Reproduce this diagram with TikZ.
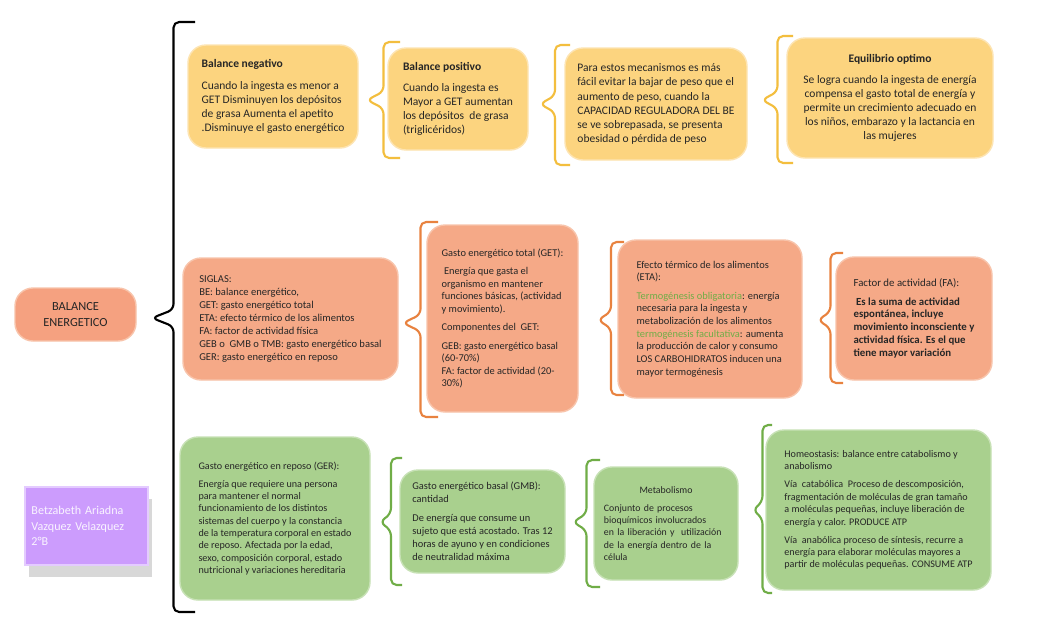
\documentclass[tikz,border=0pt]{standalone}
\usepackage{fontspec}
\setmainfont{Carlito}
\usetikzlibrary{calc,shadows}
\definecolor{gold}{HTML}{FCD47F}
\definecolor{lgold}{HTML}{FDE4B2}
\definecolor{dgold}{HTML}{F3BE3E}
\definecolor{salmon}{HTML}{F5A987}
\definecolor{lsalmon}{HTML}{F8C4AB}
\definecolor{dorange}{HTML}{E8823F}
\definecolor{sage}{HTML}{A9D08E}
\definecolor{lsage}{HTML}{C7E1B5}
\definecolor{dgreen}{HTML}{70AD47}
\definecolor{lilac}{HTML}{CC9CFD}
\definecolor{llilac}{HTML}{E4CBFF}
\tikzset
{
    % Size of a box, given in pixels of the original
    area/.style 2 args=
    {
        minimum width=#1*0.025cm,
        minimum height=#2*0.025cm
    },
    % Common style for all the rounded boxes
    box/.style=
    {
        shape=rectangle,
        rounded corners=0.45cm,
        line width=1pt,
        inner sep=0pt,
        text=black!85,
        align=left
    },
    % Boxes of the first row
    yellow box/.style=
    {
        box,
        fill=gold,
        draw=lgold,
        font=\fontsize{8.2}{10}\selectfont
    },
    % Boxes of the second row
    salmon box/.style=
    {
        box,
        fill=salmon,
        draw=lsalmon,
        font=\fontsize{7.4}{9}\selectfont
    },
    % Boxes of the third row
    green box/.style=
    {
        box,
        fill=sage,
        draw=lsage,
        font=\fontsize{7.2}{8.8}\selectfont
    },
    % The box with the name
    author box/.style=
    {
        shape=rectangle,
        fill=lilac,
        draw=llilac,
        line width=2pt,
        inner sep=0pt,
        align=left,
        text width=2.75cm,
        text=white!88!lilac,
        font=\fontsize{8.6}{11.2}\selectfont,
        drop shadow={shadow xshift=0.1cm, shadow yshift=-0.3cm, fill=gray, opacity=0.3}
    },
    % Style for the lines of the curly braces
    curly line/.style=
    {
        line width=1.5pt,
        rounded corners=4pt
    }
}
% Curly brace: colour, upper end, lower end, point
\newcommand{\drawcurly}[4]
{
    \coordinate (mid) at ($(#2)!0.5!(#4)$);
    \draw[curly line, #1] (#2) -- (#2 -| mid)
        -- ($(#4 -| mid)+(0,6pt)$) -- (#4) -- ($(#4 -| mid)+(0,-6pt)$)
        -- (#3 -| mid) -- (#3);
}
\pgfdeclarelayer{background}
\pgfsetlayers{background,main}

\begin{document}
\begin{tikzpicture}[x=0.025cm, y=-0.025cm]
    % Bounding box, one unit is one pixel of the original
    \path [use as bounding box] (0,0) rectangle (1054,640);

    % First row
    \node (neg) [yellow box, area={170}{103}] at (273,96.5)
        {\textbf{Balance negativo}\\[5pt]
         Cuando la ingesta es menor a\\
         GET Disminuyen los depósitos\\
         de grasa Aumenta el apetito\\
         .Disminuye el gasto energético};
    \node (pos) [yellow box, area={140}{102}] at (458,99)
        {\textbf{Balance positivo}\\[5pt]
         Cuando la ingesta es\\
         Mayor a GET aumentan\\
         los depósitos~ de grasa\\
         (triglicéridos)};
    \node (para) [yellow box, area={182}{112}] at (656,104)
        {Para estos mecanismos es más\\
         fácil evitar la bajar de peso que el\\
         aumento de peso, cuando la\\
         CAPACIDAD REGULADORA DEL BE\\
         se ve sobrepasada, se presenta\\
         obesidad o pérdida de peso};
    \node (equi) [yellow box, align=center, area={206}{120}] at (890,98)
        {\textbf{Equilibrio optimo}\\[5pt]
         Se logra cuando la ingesta de energía\\
         compensa el gasto total de energía y\\
         permite un crecimiento adecuado en\\
         los niños, embarazo y la lactancia en\\
         las mujeres};

    % Second row
    \node (bal) [salmon box, fill=salmon!95!red, align=center,
                 font=\fontsize{8.8}{11.4}\selectfont, area={121}{53}] at (75.5,314.5)
        {BALANCE\\ENERGETICO};
    \node (siglas) [salmon box, font=\fontsize{7.5}{9.3}\selectfont, area={215}{122}] at (290.5,319)
        {SIGLAS:\\
         BE: balance energético,\\
         GET: gasto energético total\\
         ETA: efecto térmico de los alimentos\\
         FA: factor de actividad física\\
         GEB o~ GMB o TMB: gasto energético basal\\
         GER: gasto energético en reposo};
    \node (get) [salmon box, area={151}{187}] at (502.5,318.5)
        {Gasto energético total (GET):\\[4pt]
         ~Energía que gasta el\\
         organismo en mantener\\
         funciones básicas, (actividad\\
         y movimiento).\\[4pt]
         Componentes del~ GET:\\[4pt]
         GEB: gasto energético basal\\
         (60-70\%)\\
         FA: factor de actividad (20-\\
         30\%)};
    \node (eta) [salmon box, area={184}{158}] at (710,319)
        {Efecto térmico de los alimentos\\
         (ETA):\\[4pt]
         \textcolor{dgreen}{Termogénesis obligatoria}: energía\\
         necesaria para la ingesta y\\
         metabolización de los alimentos\\
         \textcolor{dgreen}{termogénesis facultativa}: aumenta\\
         la producción de calor y consumo\\
         LOS CARBOHIDRATOS inducen una\\
         mayor termogénesis};
    \node (fa) [salmon box, font=\fontsize{7.7}{9.2}\selectfont, area={156}{123}] at (914,318.5)
        {Factor de actividad (FA):\\[4pt]
         \textbf{~Es la suma de actividad}\\
         \textbf{espontánea, incluye}\\
         \textbf{movimiento inconsciente y}\\
         \textbf{actividad física. Es el que}\\
         \textbf{tiene mayor variación}};

    % Third row
    \node (autor) [author box, area={123}{78}] at (86.5,526)
        {Betzabeth Ariadna\\Vazquez Velazquez\\2°B};
    \node (ger) [green box, area={190}{163}] at (275,518.5)
        {Gasto energético en reposo (GER):\\[4pt]
         Energía que requiere una persona\\
         para mantener el normal\\
         funcionamiento de los distintos\\
         sistemas del cuerpo y la constancia\\
         de la temperatura corporal en estado\\
         de reposo. Afectada por la edad,\\
         sexo, composición corporal, estado\\
         nutricional y variaciones hereditaria};
    \node (gmb) [green box, font=\fontsize{7.4}{9.3}\selectfont, area={165}{103}] at (482.5,521.5)
        {Gasto energético basal (GMB):\\
         cantidad\\[4pt]
         De energía que consume un\\
         sujeto que está acostado. Tras 12\\
         horas de ayuno y en condiciones\\
         de neutralidad máxima};
    \node (meta) [green box, font=\fontsize{7}{8.8}\selectfont, text width=3.1cm,
                  area={144}{113}] at (666,523.5)
        {{\centering Metabolismo\par}\vspace{4pt}
         Conjunto de procesos\\
         bioquímicos involucrados\\
         en la liberación y~ utilización\\
         de la energía dentro de la\\
         célula};
    \node (homeo) [green box, area={225}{160}] at (878.5,510)
        {Homeostasis: balance entre catabolismo y\\
         anabolismo\\[4pt]
         Vía~ catabólica~ Proceso de descomposición,\\
         fragmentación de moléculas de gran tamaño\\
         a moléculas pequeñas, incluye liberación de\\
         energía y calor. PRODUCE ATP\\[4pt]
         Vía~ anabólica proceso de síntesis, recurre a\\
         energía para elaborar moléculas mayores a\\
         partir de moléculas pequeñas. CONSUME ATP};

    % Ends and points of the braces
    \coordinate (main top) at (195,22);
    \coordinate (main bot) at (195,612);
    \coordinate (main tip) at (152,318);
    \coordinate (pos top) at (400,42);
    \coordinate (pos bot) at (400,158);
    \coordinate (pos tip) at (367,100);
    \coordinate (para top) at (570,45);
    \coordinate (para bot) at (570,165);
    \coordinate (para tip) at (540,104);
    \coordinate (equi top) at (793,36);
    \coordinate (equi bot) at (793,163);
    \coordinate (equi tip) at (762,100);
    \coordinate (get top) at (438,222);
    \coordinate (get bot) at (438,417);
    \coordinate (get tip) at (403,323);
    \coordinate (eta top) at (624,242);
    \coordinate (eta bot) at (624,395);
    \coordinate (eta tip) at (598,320);
    \coordinate (fa top) at (843,253);
    \coordinate (fa bot) at (843,383);
    \coordinate (fa tip) at (818,320);
    \coordinate (gmb top) at (402,458);
    \coordinate (gmb bot) at (402,585);
    \coordinate (gmb tip) at (380,522);
    \coordinate (meta top) at (600,460);
    \coordinate (meta bot) at (600,587);
    \coordinate (meta tip) at (573,522);
    \coordinate (homeo top) at (772,425);
    \coordinate (homeo bot) at (772,593);
    \coordinate (homeo tip) at (753,510);

    % Draw the braces behind the boxes
    \begin{pgfonlayer}{background}
        \fill[white] (0,0) rectangle (1054,640);
        \drawcurly{black}{main top}{main bot}{main tip}
        %% first row
        \drawcurly{dgold}{pos top}{pos bot}{pos tip}
        \drawcurly{dgold}{para top}{para bot}{para tip}
        \drawcurly{dgold}{equi top}{equi bot}{equi tip}
        %% second row
        \drawcurly{dorange}{get top}{get bot}{get tip}
        \drawcurly{dorange}{eta top}{eta bot}{eta tip}
        \drawcurly{dorange}{fa top}{fa bot}{fa tip}
        %% third row
        \drawcurly{dgreen}{gmb top}{gmb bot}{gmb tip}
        \drawcurly{dgreen}{meta top}{meta bot}{meta tip}
        \drawcurly{dgreen}{homeo top}{homeo bot}{homeo tip}
    \end{pgfonlayer}
\end{tikzpicture}
\end{document}
